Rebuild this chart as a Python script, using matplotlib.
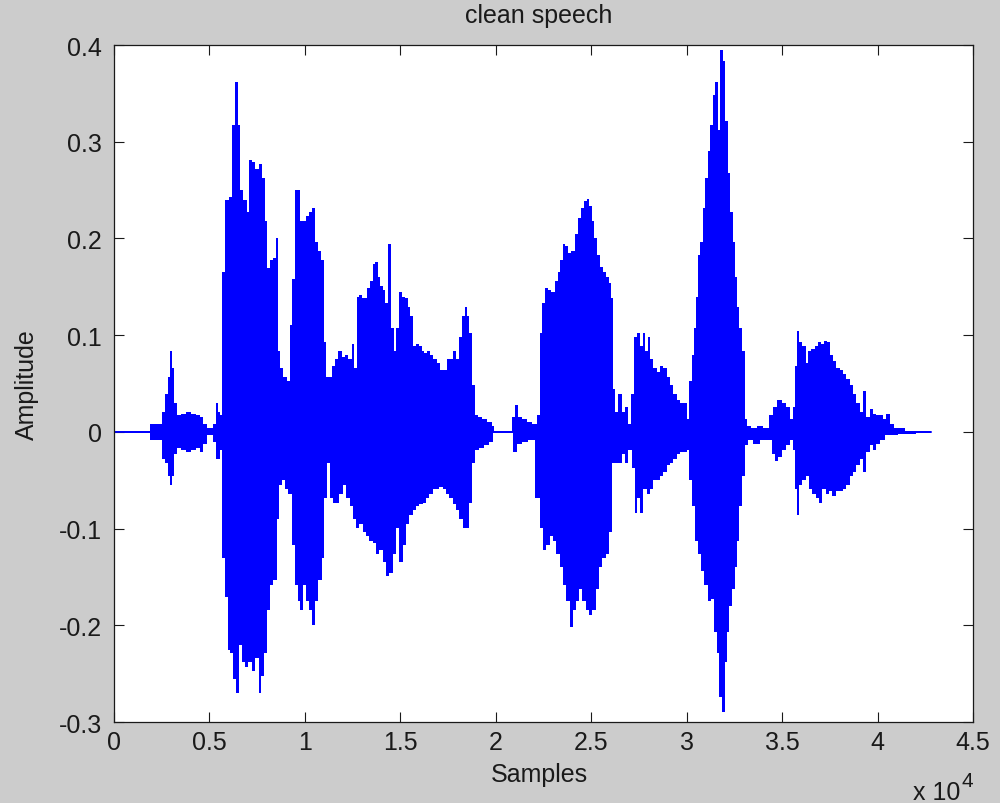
import numpy as np
import matplotlib
matplotlib.use("Agg")
import matplotlib.pyplot as plt

# upper envelope of the waveform (sample index, amplitude)
top_x = [0, 1362, 2410, 2584, 2759, 2898, 2986, 3108, 3213, 3370, 3632, 3894, 4156, 4418,
         4592, 4767, 4941, 5116, 5291, 5413, 5517, 5640, 5692, 5814, 5867, 5937, 6076, 6251,
         6425, 6565, 6687, 6862, 7037, 7124, 7298, 7473, 7735, 7822, 7962, 8084, 8259, 8433,
         8556, 8660, 8783, 8957, 9132, 9306, 9394, 9568, 9708, 9830, 9967, 10141, 10316,
         10438, 10613, 10735, 10910, 11049, 11189, 11311, 11486, 11660, 11835, 12010, 12184,
         12359, 12533, 12656, 12760, 12935, 13057, 13179, 13319, 13494, 13633, 13756, 13878,
         14017, 14157, 14279, 14454, 14576, 14716, 14855, 14978, 15152, 15327, 15449, 15589,
         15763, 15903, 16025, 16200, 16322, 16462, 16636, 16811, 16986, 17160, 17335, 17509,
         17684, 17824, 17998, 18121, 18295, 18435, 18551, 18691, 18865, 18988, 19162, 19424,
         19686, 19913, 19948, 20821, 20908, 21083, 21258, 21519, 21781, 22043, 22253, 22357,
         22480, 22654, 22829, 23004, 23178, 23300, 23440, 23580, 23719, 23877, 24051, 24226,
         24400, 24575, 24697, 24837, 24976, 25099, 25221, 25361, 25535, 25710, 25849, 25972,
         26094, 26199, 26321, 26504, 26679, 26853, 27028, 27167, 27290, 27464, 27639, 27761,
         27901, 28040, 28163, 28337, 28512, 28687, 28861, 29036, 29210, 29385, 29560, 29734,
         29909, 30083, 30206, 30310, 30433, 30555, 30659, 30782, 30904, 31044, 31183, 31306,
         31428, 31567, 31707, 31829, 31952, 32091, 32231, 32353, 32475, 32580, 32702, 32825,
         32964, 33104, 33226, 33488, 33837, 34186, 34448, 34623, 34885, 35134, 35308, 35483,
         35622, 35692, 35832, 35972, 36146, 36321, 36443, 36618, 36792, 36967, 37141, 37281,
         37438, 37578, 37753, 37927, 38102, 38276, 38451, 38626, 38800, 38975, 39149, 39324,
         39499, 39673, 39848, 40022, 40197, 40372, 40546, 40721, 40983, 41245, 41594, 42816]
top_y = [0.001, 0.001, 0.008, 0.021, 0.039, 0.057, 0.084, 0.066, 0.03, 0.017, 0.019, 0.021,
         0.019, 0.017, 0.015, 0.008, 0.004, 0.004, 0.008, 0.03, 0.021, 0.017, 0.165, 0.165,
         0.24, 0.24, 0.243, 0.317, 0.362, 0.317, 0.25, 0.24, 0.227, 0.281, 0.279, 0.272,
         0.277, 0.263, 0.218, 0.169, 0.178, 0.18, 0.2, 0.084, 0.066, 0.057, 0.053, 0.111,
         0.158, 0.25, 0.25, 0.218, 0.218, 0.223, 0.227, 0.232, 0.196, 0.187, 0.178, 0.093,
         0.057, 0.057, 0.068, 0.075, 0.084, 0.077, 0.08, 0.075, 0.091, 0.066, 0.14, 0.142,
         0.138, 0.138, 0.149, 0.156, 0.174, 0.176, 0.16, 0.151, 0.147, 0.133, 0.194, 0.107,
         0.084, 0.107, 0.145, 0.14, 0.138, 0.129, 0.12, 0.089, 0.091, 0.089, 0.084, 0.082,
         0.084, 0.08, 0.075, 0.071, 0.064, 0.064, 0.075, 0.075, 0.084, 0.075, 0.098, 0.12,
         0.129, 0.12, 0.102, 0.048, 0.017, 0.015, 0.013, 0.01, 0.006, 0.001, 0.001, 0.015,
         0.028, 0.015, 0.013, 0.01, 0.008, 0.017, 0.102, 0.133, 0.149, 0.147, 0.145, 0.156,
         0.165, 0.178, 0.194, 0.192, 0.185, 0.187, 0.205, 0.221, 0.232, 0.239, 0.241, 0.234,
         0.218, 0.2, 0.183, 0.171, 0.165, 0.16, 0.154, 0.138, 0.044, 0.021, 0.039, 0.021,
         0.026, 0.008, 0.039, 0.098, 0.102, 0.089, 0.102, 0.084, 0.098, 0.075, 0.066, 0.062,
         0.068, 0.066, 0.057, 0.048, 0.039, 0.033, 0.03, 0.03, 0.013, 0.053, 0.08, 0.107,
         0.14, 0.183, 0.196, 0.232, 0.263, 0.29, 0.317, 0.348, 0.362, 0.312, 0.395, 0.384,
         0.321, 0.268, 0.227, 0.196, 0.16, 0.129, 0.107, 0.084, 0.013, 0.006, 0.004, 0.006,
         0.004, 0.017, 0.026, 0.033, 0.03, 0.026, 0.013, 0.026, 0.068, 0.104, 0.093, 0.089,
         0.071, 0.084, 0.086, 0.089, 0.093, 0.091, 0.094, 0.093, 0.08, 0.073, 0.066, 0.064,
         0.06, 0.055, 0.048, 0.039, 0.03, 0.021, 0.042, 0.015, 0.024, 0.019, 0.017, 0.017,
         0.013, 0.019, 0.008, 0.004, 0.004, 0.001, 0.001]

# lower envelope of the waveform (sample index, amplitude)
bot_x = [0, 1362, 2410, 2584, 2759, 2898, 2986, 3108, 3213, 3370, 3632, 3894, 4156, 4418,
         4592, 4767, 4941, 5116, 5291, 5413, 5517, 5640, 5727, 5867, 6041, 6164, 6338, 6478,
         6600, 6775, 6949, 7124, 7298, 7508, 7648, 7787, 7910, 8084, 8259, 8433, 8608, 8730,
         8870, 9044, 9219, 9394, 9568, 9708, 9830, 10002, 10141, 10316, 10438, 10613, 10787,
         10962, 11084, 11224, 11363, 11538, 11713, 11887, 12062, 12271, 12446, 12586, 12760,
         12935, 13109, 13284, 13459, 13633, 13808, 13982, 14157, 14332, 14506, 14681, 14855,
         15030, 15205, 15379, 15554, 15728, 15903, 16078, 16252, 16427, 16601, 16776, 16951,
         17125, 17300, 17474, 17649, 17824, 17998, 18173, 18348, 18551, 18691, 18865, 18988,
         19250, 19512, 19773, 19948, 20821, 20996, 21258, 21519, 21869, 22253, 22392, 22567,
         22742, 22916, 23091, 23265, 23440, 23615, 23789, 23964, 24103, 24278, 24453, 24627,
         24802, 24976, 25151, 25326, 25500, 25675, 25849, 26024, 26199, 26408, 26504, 26679,
         26853, 27028, 27202, 27342, 27464, 27639, 27814, 27988, 28163, 28337, 28512, 28687,
         28861, 29036, 29210, 29385, 29560, 29734, 29909, 30083, 30206, 30345, 30485, 30659,
         30834, 31009, 31183, 31358, 31533, 31655, 31777, 31917, 32056, 32179, 32301, 32440,
         32580, 32702, 32825, 32964, 33104, 33313, 33663, 34012, 34361, 34536, 34675, 34885,
         35134, 35308, 35483, 35622, 35745, 35832, 35972, 36146, 36321, 36495, 36670, 36845,
         37019, 37194, 37368, 37543, 37718, 37892, 38067, 38276, 38451, 38626, 38800, 38975,
         39149, 39324, 39499, 39673, 39848, 40022, 40197, 40546, 40895, 41245, 42816]
bot_y = [-0.001, -0.001, -0.008, -0.028, -0.032, -0.046, -0.055, -0.046, -0.023, -0.017,
         -0.019, -0.021, -0.019, -0.017, -0.021, -0.012, -0.003, -0.003, -0.01, -0.028,
         -0.028, -0.019, -0.13, -0.171, -0.225, -0.229, -0.256, -0.27, -0.22, -0.238,
         -0.243, -0.238, -0.247, -0.234, -0.27, -0.252, -0.229, -0.184, -0.158, -0.153,
         -0.09, -0.055, -0.05, -0.059, -0.064, -0.117, -0.158, -0.175, -0.184, -0.158,
         -0.175, -0.184, -0.2, -0.175, -0.153, -0.13, -0.068, -0.032, -0.068, -0.073,
         -0.073, -0.064, -0.055, -0.068, -0.077, -0.09, -0.099, -0.095, -0.104, -0.108,
         -0.113, -0.115, -0.126, -0.122, -0.135, -0.149, -0.146, -0.126, -0.099, -0.135,
         -0.117, -0.095, -0.086, -0.081, -0.077, -0.075, -0.073, -0.068, -0.064, -0.059,
         -0.059, -0.057, -0.059, -0.064, -0.068, -0.075, -0.081, -0.09, -0.099, -0.099,
         -0.073, -0.032, -0.019, -0.017, -0.014, -0.01, -0.001, -0.001, -0.021, -0.012,
         -0.01, -0.008, -0.068, -0.099, -0.122, -0.117, -0.108, -0.113, -0.126, -0.14,
         -0.158, -0.175, -0.202, -0.184, -0.175, -0.162, -0.175, -0.184, -0.189, -0.184,
         -0.162, -0.14, -0.13, -0.126, -0.104, -0.032, -0.032, -0.032, -0.023, -0.032,
         -0.019, -0.037, -0.084, -0.068, -0.084, -0.059, -0.064, -0.059, -0.05, -0.05,
         -0.046, -0.041, -0.034, -0.032, -0.028, -0.023, -0.021, -0.021, -0.019, -0.05,
         -0.077, -0.113, -0.126, -0.144, -0.158, -0.175, -0.173, -0.207, -0.229, -0.274,
         -0.29, -0.238, -0.207, -0.18, -0.162, -0.14, -0.113, -0.077, -0.046, -0.014,
         -0.008, -0.012, -0.008, -0.008, -0.023, -0.03, -0.026, -0.019, -0.014, -0.008,
         -0.019, -0.059, -0.086, -0.055, -0.05, -0.046, -0.059, -0.064, -0.068, -0.073,
         -0.059, -0.064, -0.061, -0.066, -0.061, -0.061, -0.059, -0.055, -0.046, -0.041,
         -0.034, -0.028, -0.041, -0.021, -0.014, -0.019, -0.012, -0.008, -0.003, -0.003,
         -0.002, -0.001]

xticks = [0, 5000, 10000, 15000, 20000, 25000, 30000, 35000, 40000, 45000]
xticklabels = ['0', '0.5', '1', '1.5', '2', '2.5', '3', '3.5', '4', '4.5']
yticks = [-0.3, -0.2, -0.1, 0, 0.1, 0.2, 0.3, 0.4]
yticklabels = ['-0.3', '-0.2', '-0.1', '0', '0.1', '0.2', '0.3', '0.4']

plt.rcParams['font.family'] = ['Liberation Sans', 'DejaVu Sans']
blue = '#0000ff'
txt = '#1a1a1a'

fig = plt.figure(figsize=(10, 8.04), dpi=100, facecolor='#cccccc')
ax = fig.add_axes([0.114, 0.1007, 0.859, 0.842])

ax.fill_between(top_x, 0, top_y, step='mid', color=blue, lw=0)
ax.fill_between(bot_x, bot_y, 0, step='mid', color=blue, lw=0)
ax.plot([top_x[0], top_x[-1]], [0, 0], color=blue, lw=1.2)

ax.set_xlim(0, 45000)
ax.set_ylim(-0.3, 0.4)
ax.set_xticks(xticks)
ax.set_xticklabels(xticklabels)
ax.set_yticks(yticks)
ax.set_yticklabels(yticklabels)
ax.tick_params(direction='in', length=7, width=0.8, top=True, right=True,
               labelsize=18, colors=txt, labelcolor=txt)
ax.tick_params(axis='x', pad=6)
ax.tick_params(axis='y', pad=8.5)
for s in ax.spines.values():
    s.set_linewidth(0.9)
    s.set_color(txt)

ax.set_xlabel('Samples', fontsize=18, color=txt)
ax.xaxis.set_label_coords(0.495, -0.059)
ax.set_ylabel('Amplitude', fontsize=18, color=txt)
ax.yaxis.set_label_coords(-0.087, 0.5)
ax.text(0.494, 1.034, 'clean speech', transform=ax.transAxes, ha='center',
        va='baseline', fontsize=18, color=txt)

fig.text(0.913, 0.005, 'x 10', fontsize=18, color=txt, ha='left', va='baseline')
fig.text(0.961, 0.021, '4', fontsize=15, color=txt, ha='left', va='baseline')

fig.savefig('out.png', dpi=100, facecolor=fig.get_facecolor())
